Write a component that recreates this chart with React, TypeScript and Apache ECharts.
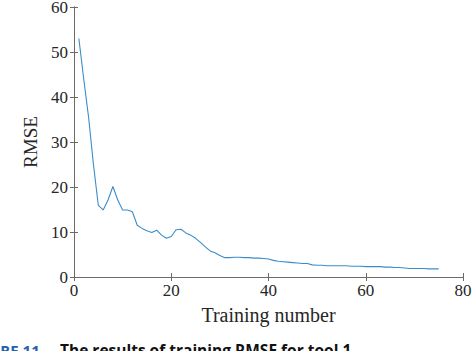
import React, { useEffect, useRef } from "react";
import * as echarts from "echarts";

const rmseValues: number[] = [
  53.0, 44.0, 35.5, 25.0, 15.9, 14.9, 17.1, 20.1, 17.1, 14.9,
  14.9, 14.5, 11.5, 10.8, 10.3, 9.9, 10.4, 9.3, 8.6, 9.0,
  10.5, 10.6, 9.8, 9.3, 8.6, 7.7, 6.7, 5.8, 5.4, 4.8,
  4.3, 4.3, 4.4, 4.4, 4.3, 4.3, 4.2, 4.2, 4.1, 4.0,
  3.7, 3.5, 3.4, 3.3, 3.2, 3.1, 3.0, 3.0, 2.7, 2.6,
  2.6, 2.5, 2.5, 2.5, 2.5, 2.5, 2.4, 2.4, 2.4, 2.3,
  2.3, 2.3, 2.3, 2.2, 2.2, 2.1, 2.1, 2.0, 1.9, 1.9,
  1.9, 1.9, 1.8, 1.8, 1.8,
];
const trainingNumbers: number[] = rmseValues.map((_, i) => i + 1);

const xTicks = { min: 0, max: 80, interval: 20 };
const yTicks = { min: 0, max: 60, interval: 10 };
const xTitle = "Training number";
const yTitle = "RMSE";
const captionLabel = "FIGURE 11.";
const captionText = "The results of training RMSE for tool 1.";

export default function App() {
  const ref = useRef<HTMLDivElement>(null);
  useEffect(() => {
    if (!ref.current) return;
    const chart = echarts.init(ref.current, undefined, { renderer: "svg" });
    const axisColor = "#6a6a6a";
    const textColor = "#262626";
    const serif = "'Liberation Serif', 'Times New Roman', serif";
    const baseAxis = {
      axisLine: { show: true, lineStyle: { color: axisColor, width: 1 } },
      axisTick: { show: true, inside: true, length: 4, lineStyle: { color: axisColor, width: 1 } },
      splitLine: { show: false },
    };
    chart.setOption({
      animation: false,
      backgroundColor: "#ffffff",
      grid: { left: 74, right: 11, top: 7, bottom: 74, containLabel: false, outerBoundsMode: "none" },
      xAxis: [
        {
          type: "value",
          position: "bottom",
          ...xTicks,
          ...baseAxis,
          axisLabel: { color: textColor, fontFamily: serif, fontSize: 17, margin: 5 },
          name: xTitle,
          nameLocation: "middle",
          nameGap: 28,
          nameTextStyle: { color: textColor, fontFamily: serif, fontSize: 20 },
        },
        {
          type: "value",
          position: "top",
          ...xTicks,
          ...baseAxis,
          axisLabel: { show: false },
        },
      ],
      yAxis: [
        {
          type: "value",
          position: "left",
          ...yTicks,
          ...baseAxis,
          axisLabel: { color: textColor, fontFamily: serif, fontSize: 17, margin: 6 },
          name: yTitle,
          nameLocation: "middle",
          nameGap: 34,
          nameTextStyle: { color: textColor, fontFamily: serif, fontSize: 19 },
        },
        {
          type: "value",
          position: "right",
          ...yTicks,
          ...baseAxis,
          axisLabel: { show: false },
        },
      ],
      series: [
        {
          type: "line",
          xAxisIndex: 0,
          yAxisIndex: 0,
          data: trainingNumbers.map((x, i) => [x, rmseValues[i]]),
          showSymbol: false,
          symbol: "none",
          lineStyle: { color: "#3a8cca", width: 1.1 },
        },
      ],
      graphic: [
        {
          type: "text",
          x: 44,
          y: 342,
          style: {
            text: captionLabel,
            align: "right",
            verticalAlign: "top",
            fill: "#1f64ad",
            font: "bold 15px 'Open Sans', 'Noto Sans', sans-serif",
          },
        },
        {
          type: "text",
          x: 60,
          y: 342,
          style: {
            text: captionText,
            align: "left",
            verticalAlign: "top",
            fill: "#111111",
            font: "bold 15.5px 'Open Sans', 'Noto Sans', sans-serif",
          },
        },
      ],
    });
    return () => chart.dispose();
  }, []);
  return (
    <div
      ref={ref}
      style={{ position: "fixed", left: 0, top: 0, width: 474, height: 351, background: "#fff" }}
    />
  );
}
